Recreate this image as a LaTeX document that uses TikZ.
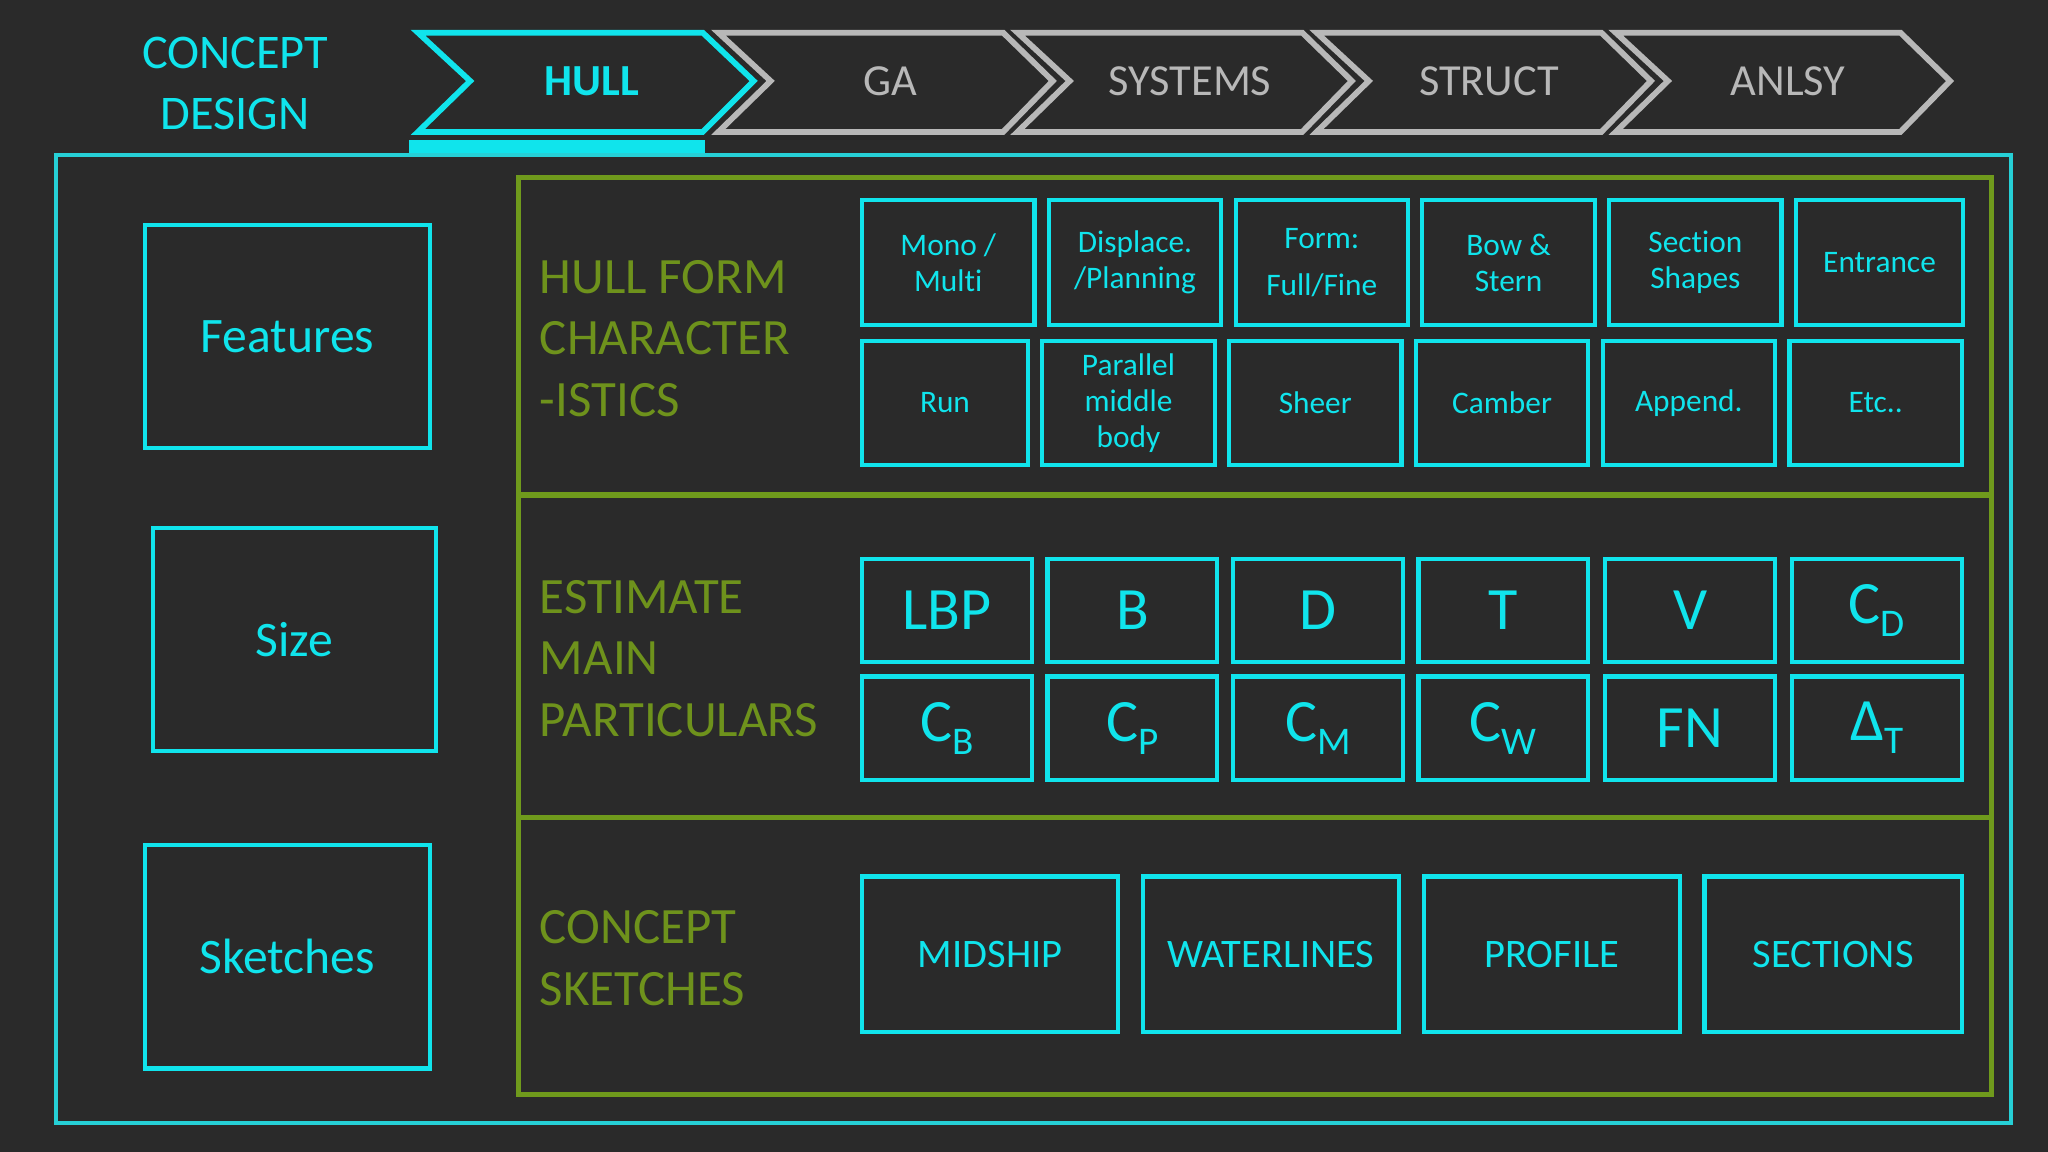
\documentclass[tikz,border=0pt]{standalone}
\usepackage{fontspec}
\setmainfont{Carlito}[Ligatures=NoCommon]
\definecolor{bg}{HTML}{2A2A2A}
\definecolor{cy}{HTML}{10E4EC}
\definecolor{gr}{HTML}{6F9A1C}
\definecolor{gt}{HTML}{6E921C}
\definecolor{gy}{HTML}{B8B8B8}
\newcommand\bx[7][12pt]{\node[bbox,minimum width={(#5-#3)*0.5pt},minimum height={(#6-#4)*0.5pt},font=\fontsize{#1}{1.15\dimexpr#1\relax}\selectfont] (#2) at ({(#3+#5)/2},{(#4+#6)/2}) {#7};}
\begin{document}
\begin{tikzpicture}[x=0.5pt,y=-0.5pt,
  bbox/.style={draw=cy,line width=1.6pt,text=cy,inner sep=0pt,outer sep=0pt,align=center},
  glab/.style={text=gt,anchor=west,font=\fontsize{19.5}{23}\selectfont,inner sep=0pt},
  tab/.style={font=\fontsize{17}{20}\selectfont,text=gy}]
\fill[bg] (0,0) rectangle (1568,882);
\useasboundingbox (0,0) rectangle (1568,882);
% top
\node[text=cy,font=\fontsize{18.5}{23.5}\selectfont,align=center] (cd) at (180,64) {CONCEPT\\DESIGN};
\draw[cy,line width=2.2pt,line join=miter] (320,25) -- (538,25) -- (577,62) -- (538,101) -- (320,101) -- (360,62) -- cycle;
\node[text=cy,font=\bfseries\fontsize{17}{20}\selectfont] (hull) at (453,62) {HULL};
\foreach \i/\t in {0/GA,1/SYSTEMS,2/STRUCT,3/ANLSY}{
  \draw[gy,line width=2.2pt,line join=miter] (550+229*\i,25) -- (768+229*\i,25) -- (806+229*\i,62) -- (768+229*\i,101) -- (550+229*\i,101) -- (590+229*\i,62) -- cycle;
  \node[tab] (t\i) at (682+229*\i,62) {\t};
}
\fill[cy] (313,107) rectangle (540,118);
% frames
\draw[cy!80!gray,line width=1.5pt] (43,119) rectangle (1540,860);
\draw[gr,line width=2pt] (397,136) rectangle (1525,838);
\draw[gr,line width=2pt] (397,379) -- (1525,379);
\draw[gr,line width=2pt] (397,626) -- (1525,626);
% left
\bx[19pt]{feat}{111}{172}{329}{343}{Features}
\bx[19pt]{size}{117}{404}{334}{575}{Size}
\bx[19pt]{sket}{111}{647}{329}{818}{Sketches}
% green labels
\node[glab] (l1) at (413,212) {HULL FORM};
\node[glab] (l2) at (413,259) {CHARACTER};
\node[glab] (l3) at (413,306) {-ISTICS};
\node[glab] (l4) at (413,457) {ESTIMATE};
\node[glab] (l5) at (413,504) {MAIN};
\node[glab] (l6) at (413,551) {PARTICULARS};
\node[glab] (l7) at (413,710) {CONCEPT};
\node[glab] (l8) at (413,757) {SKETCHES};
% row1
\bx{a1}{660}{153}{792}{249}{Mono /\\Multi}
\bx{a2}{803}{153}{935}{249}{Displace.\\/Planning}
\bx[12pt]{a3}{946}{153}{1078}{249}{Form:\\[4pt]Full/Fine}
\bx{a4}{1089}{153}{1221}{249}{Bow \&\\Stern}
\bx{a5}{1232}{153}{1364}{249}{Section\\Shapes}
\bx{a6}{1375}{153}{1503}{249}{Entrance}
% row2
\bx{b1}{660}{261}{787}{356}{Run}
\bx{b2}{798}{261}{930}{356}{Parallel\\middle\\body}
\bx{b3}{941}{261}{1073}{356}{Sheer}
\bx{b4}{1084}{261}{1216}{356}{Camber}
\bx{b5}{1227}{261}{1359}{356}{Append.}
\bx{b6}{1370}{261}{1502}{356}{Etc..}
% row3
\bx[23pt]{c1}{660}{428}{790}{507}{LBP}
\bx[23pt]{c2}{802}{428}{932}{507}{B}
\bx[23pt]{c3}{944}{428}{1074}{507}{D}
\bx[23pt]{c4}{1086}{428}{1216}{507}{T}
\bx[23pt]{c5}{1229}{428}{1359}{507}{V}
\bx[23pt]{c6}{1372}{428}{1502}{507}{C\raisebox{-0.45ex}{\fontsize{15}{15}\selectfont D}}
% row4
\bx[23pt]{d1}{660}{518}{790}{597}{C\raisebox{-0.45ex}{\fontsize{15}{15}\selectfont B}}
\bx[23pt]{d2}{802}{518}{932}{597}{C\raisebox{-0.45ex}{\fontsize{15}{15}\selectfont P}}
\bx[23pt]{d3}{944}{518}{1074}{597}{C\raisebox{-0.45ex}{\fontsize{15}{15}\selectfont M}}
\bx[23pt]{d4}{1086}{518}{1216}{597}{C\raisebox{-0.45ex}{\fontsize{15}{15}\selectfont W}}
\bx[23pt]{d5}{1229}{518}{1359}{597}{FN}
\bx[23pt]{d6}{1372}{518}{1502}{597}{Δ\raisebox{-0.45ex}{\fontsize{15}{15}\selectfont T}}
% row5
\bx[15.5pt]{e1}{660}{671}{856}{790}{MIDSHIP}
\bx[15.5pt]{e2}{875}{671}{1071}{790}{WATERLINES}
\bx[15.5pt]{e3}{1090}{671}{1286}{790}{PROFILE}
\bx[15.5pt]{e4}{1305}{671}{1502}{790}{SECTIONS}
\end{tikzpicture}
\end{document}
